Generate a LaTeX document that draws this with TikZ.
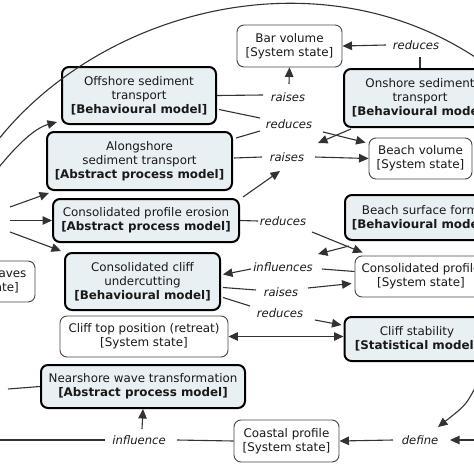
\documentclass[tikz,border=0pt]{standalone}
\usepackage{fontspec}
\setmainfont{DejaVu Sans}
\usetikzlibrary{arrows.meta,calc}
\definecolor{boxfill}{RGB}{233,240,244}
\definecolor{statedraw}{RGB}{70,70,70}
\definecolor{linec}{RGB}{50,50,50}
\definecolor{txt}{RGB}{25,25,25}
\begin{document}
\begin{tikzpicture}[x=1pt,y=-1pt,
  boxfont/.style={font=\fontsize{11.9}{14}\selectfont},
  model/.style={boxfont, draw=black, line width=2pt, fill=boxfill, rounded corners=7pt, align=center, inner sep=0pt, text=txt},
  sstate/.style={boxfont, draw=statedraw, line width=0.9pt, fill=white, rounded corners=7pt, align=center, inner sep=0pt, text=txt},
  lbl/.style={font=\fontsize{11.6}{14}\selectfont\itshape, text=txt, inner sep=1pt},
  conn/.style={draw=linec, line width=1.1pt},
  arr/.style={conn, -{Triangle[length=9.5pt,width=8.5pt]}},
  darr/.style={conn, {Triangle[length=9.5pt,width=8.5pt]}-{Triangle[length=9.5pt,width=8.5pt]}},
]
\useasboundingbox (0,0) rectangle (474,474);
\clip (0,0) rectangle (474,474);

% boxes
\node[sstate, minimum width=105pt, minimum height=42pt] (bar) at (289.5,46) {Bar volume\\{[System state]}};
\node[model, minimum width=154pt, minimum height=57pt] (off) at (139,95.5) {Offshore sediment\\transport\\\textbf{[Behavioural model]}};
\node[model, minimum width=152pt, minimum height=58pt] (on) at (420,98) {Onshore sediment\\transport\\\textbf{[Behavioural model]}};
\node[model, minimum width=185pt, minimum height=58pt] (along) at (139.5,161) {Alongshore\\sediment transport\\\textbf{[Abstract process model]}};
\node[sstate, minimum width=103pt, minimum height=41pt] (bvol) at (420.5,158.5) {Beach volume\\{[System state]}};
\node[model, minimum width=186pt, minimum height=43pt] (cpe) at (146,220.5) {Consolidated profile erosion\\\textbf{[Abstract process model]}};
\node[model, minimum width=150pt, minimum height=45pt] (bsf) at (420,217.5) {Beach surface form\\\textbf{[Behavioural model]}};
\node[sstate, minimum width=120pt, minimum height=41pt] (waves) at (-25,281.5) {Nearshore waves\\{[System state]}};
\node[model, minimum width=155pt, minimum height=57pt] (ccu) at (142.5,281.5) {Consolidated cliff\\undercutting\\\textbf{[Behavioural model]}};
\node[sstate, minimum width=132pt, minimum height=41pt] (cprof) at (421,276.5) {Consolidated profile\\{[System state]}};
\node[sstate, minimum width=168pt, minimum height=41pt] (ctp) at (144,336.5) {Cliff top position (retreat)\\{[System state]}};
\node[model, minimum width=145pt, minimum height=44pt] (cs) at (417,339) {Cliff stability\\\textbf{[Statistical model]}};
\node[model, minimum width=204pt, minimum height=43pt] (nwt) at (143,386.5) {Nearshore wave transformation\\\textbf{[Abstract process model]}};
\node[sstate, minimum width=105pt, minimum height=42pt] (coast) at (286.5,441) {Coastal profile\\{[System state]}};

% labels
\node[lbl] (L1) at (416,45) {reduces};
\node[lbl] (L2) at (288,97) {raises};
\node[lbl] (L3) at (289,124) {reduces};
\node[lbl] (L4) at (287,157) {raises};
\node[lbl] (L5) at (283,221) {reduces};
\node[lbl] (L6) at (283,267) {influences};
\node[lbl] (L7) at (281,292) {raises};
\node[lbl] (L8) at (280,313) {reduces};
\node[lbl] (L9) at (420,440) {define};
\node[lbl] (L10) at (139,440) {influence};

% free ends
\coordinate (r1) at (476,386);
\coordinate (r2) at (482,440);
\coordinate (r3) at (500,75);
\coordinate (l1) at (-5,440);
\coordinate (l2) at (8,389);
\coordinate (l3) at (-15,185);
\coordinate (l4) at (-20,165);
\coordinate (w1) at (10,207);
\coordinate (w2) at (10,220.5);
\coordinate (w3) at (10,232);

% connectors
\draw[conn] (on.north) -- +(0,-11);
\draw[arr] ($(L1)+(-30,0)$) -- (bar.east);
\draw[conn] (off.east) -- ($(L2)+(-25,-2)$);
\draw[arr] ($(L2)+(1,-13)$) -- (bar.south);
\draw[conn] ($(off.east)+(2,14)$) -- ($(L3)+(-29,-6)$);
\draw[conn] ($(along.east)+(3,-23)$) -- ($(L3)+(-29,7)$);
\draw[arr] ($(L3)+(34,8)$) -- ($(bvol.north west)+(-3,5)$);
\draw[conn] ($(along.east)+(1,-3)$) -- ($(L4)+(-25,0)$);
\draw[arr] ($(L4)+(28,0)$) -- (bvol.west);
\draw[arr] ($(on.south west)+(8,1)$) -- ($(L4)+(31,-14)$);
\draw[arr] ($(cpe.north east)+(3,-1)$) -- ($(L4)+(-7,14)$);
\draw[conn] (cpe.east) -- ($(L5)+(-25,0)$);
\draw[arr] ($(L5)+(29,11)$) -- ($(cprof.north west)+(8,-3)$);
\draw[arr] ($(bsf.south west)+(5,5)$) -- ($(L6)+(35,-13)$);
\draw[conn] ($(cprof.west)+(0,-5)$) -- ($(L6)+(39,2)$);
\draw[arr] ($(L6)+(-32,2)$) -- ($(ccu.east)+(2,-7)$);
\draw[conn] ($(ccu.east)+(2,6)$) -- ($(L7)+(-25,-2)$);
\draw[arr] ($(L7)+(27,-4)$) -- ($(cprof.west)+(-3,7)$);
\draw[conn] ($(ccu.east)+(2,16)$) -- ($(L8)+(-30,-7)$);
\draw[arr] ($(L8)+(35,7)$) -- ($(cs.west)+(-2,-14)$);
\draw[darr] (ctp.east) -- (cs.west |- ctp.east);
\draw[arr] (r1) .. controls (466,405) .. ($(L9)+(18,-13)$);
\draw[arr] (r2) -- ($(L9)+(30,0)$);
\draw[arr] ($(L9)+(-27,0)$) -- (coast.east);
\draw[conn] (coast.west) -- ($(L10)+(38,0)$);
\draw[arr] ($(L10)+(3,-11)$) -- (nwt.south);
\draw[conn] ($(L10)+(-34,0)$) -- (l1);
\draw[conn] (l2) -- (nwt.west);
\draw[arr] (w1) -- ($(along.south west)+(3,2)$);
\draw[arr] (w2) -- (cpe.west);
\draw[arr] (w3) -- ($(ccu.north west)+(-3,-1)$);
\draw[arr] (l3) .. controls (15,145) and (35,128) .. ($(off.south west)+(-4,-3)$);
\draw[conn] (l4) .. controls (80,10) and (330,-60) .. (r3);
\end{tikzpicture}
\end{document}
